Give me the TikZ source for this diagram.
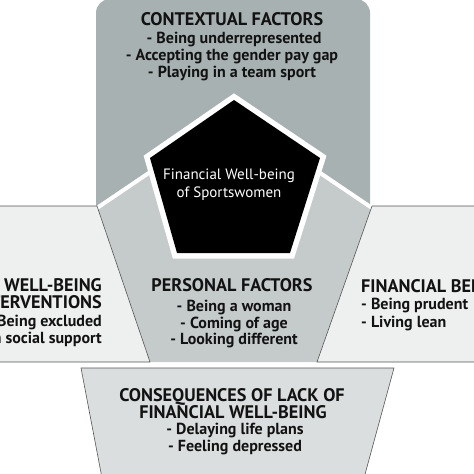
\documentclass[tikz,border=0pt]{standalone}
\usepackage{fontspec}
\setmainfont{PT Sans}
\definecolor{topgray}{RGB}{168,177,177}
\definecolor{persgray}{RGB}{197,203,203}
\definecolor{panel}{RGB}{238,239,239}
\definecolor{botpanel}{RGB}{219,222,222}
\definecolor{edge}{RGB}{85,85,85}
\definecolor{ink}{RGB}{18,18,18}
\begin{document}
\begin{tikzpicture}[x=1pt,y=-1pt,
  ttl/.style={font=\bfseries\fontsize{18.2}{19}\selectfont, text=ink, inner sep=0pt, text height=12.5pt, text depth=1pt},
  itm/.style={font=\bfseries\fontsize{16}{17}\selectfont, text=ink, inner sep=0pt, text height=12pt, text depth=3.5pt},
  ctr/.style={font=\fontsize{15}{16}\selectfont, text=white, inner sep=0pt, text height=11pt, text depth=3.5pt},
  panelbox/.style={fill=panel, draw=edge, line width=0.6pt},
  sep/.style={white, line width=4pt}]
\useasboundingbox (0,0) rectangle (474,474);
\clip (0,0) rectangle (474,474);
% contextual box
\fill[topgray, rounded corners=14pt] (96,-1) rectangle (370,340);
% personal region
\fill[persgray] (97,208) -- (165,162) -- (304,162) -- (372,208) -- (317,362) -- (150,362) -- cycle;
\draw[sep] (97,208) -- (165,162);
\draw[sep] (372,208) -- (304,162);
% central pentagon
\coordinate (pt) at (234,100);
\coordinate (pr) at (320,158);
\coordinate (pbr) at (290,253);
\coordinate (pbl) at (177,253);
\coordinate (pl) at (150,158);
\draw[white, line width=11pt, line join=miter] (pt) -- (pr) -- (pbr) -- (pbl) -- (pl) -- cycle;
\fill[black] (pt) -- (pr) -- (pbr) -- (pbl) -- (pl) -- cycle;
% side panels
\draw[panelbox] (-2,206) -- (97,206) -- (150,362) -- (-2,362) -- cycle;
\draw[panelbox] (476,206) -- (372,206) -- (317,362) -- (476,362) -- cycle;
% bottom panel
\draw[fill=botpanel, draw=edge, line width=0.6pt] (81,368) -- (394,368) -- (364,478) -- (102,478) -- cycle;
% texts: contextual
\node[ttl, anchor=base] (c0) at (232,25) {CONTEXTUAL FACTORS};
\node[itm, anchor=base] (c1) at (234,43) {- Being underrepresented};
\node[itm, anchor=base] (c2) at (232,60) {- Accepting the gender pay gap};
\node[itm, anchor=base] (c3) at (232,77) {- Playing in a team sport};
% centre
\node[ctr, anchor=base] (m1) at (229,179) {Financial Well-being};
\node[ctr, anchor=base] (m2) at (229,197) {of Sportswomen};
% personal
\node[ttl, anchor=base] (p0) at (232,291) {PERSONAL FACTORS};
\node[itm, anchor=base] (p1) at (234,311) {- Being a woman};
\node[itm, anchor=base] (p2) at (234,328) {- Coming of age};
\node[itm, anchor=base] (p3) at (234,344) {- Looking different};
% left
\node[ttl, anchor=base east] (l0) at (102,291.5) {FINANCIAL WELL-BEING};
\node[ttl, anchor=base east] (l1) at (102,308.5) {INTERVENTIONS};
\node[itm, anchor=base east] (l2) at (102,326) {- Being excluded};
\node[itm, anchor=base east] (l3) at (102,343) {from social support};
% right
\node[ttl, anchor=base west] (r0) at (361,292) {FINANCIAL BEHAVIOURS};
\node[itm, anchor=base west] (r1) at (361,309) {- Being prudent};
\node[itm, anchor=base west] (r2) at (361,327) {- Living lean};
% consequences
\node[ttl, anchor=base] (b0) at (232,401) {CONSEQUENCES OF LACK OF};
\node[ttl, anchor=base] (b1) at (233,418) {FINANCIAL WELL-BEING};
\node[itm, anchor=base] (b2) at (235,434) {- Delaying life plans};
\node[itm, anchor=base] (b3) at (235,451) {- Feeling depressed};
\end{tikzpicture}
\end{document}
